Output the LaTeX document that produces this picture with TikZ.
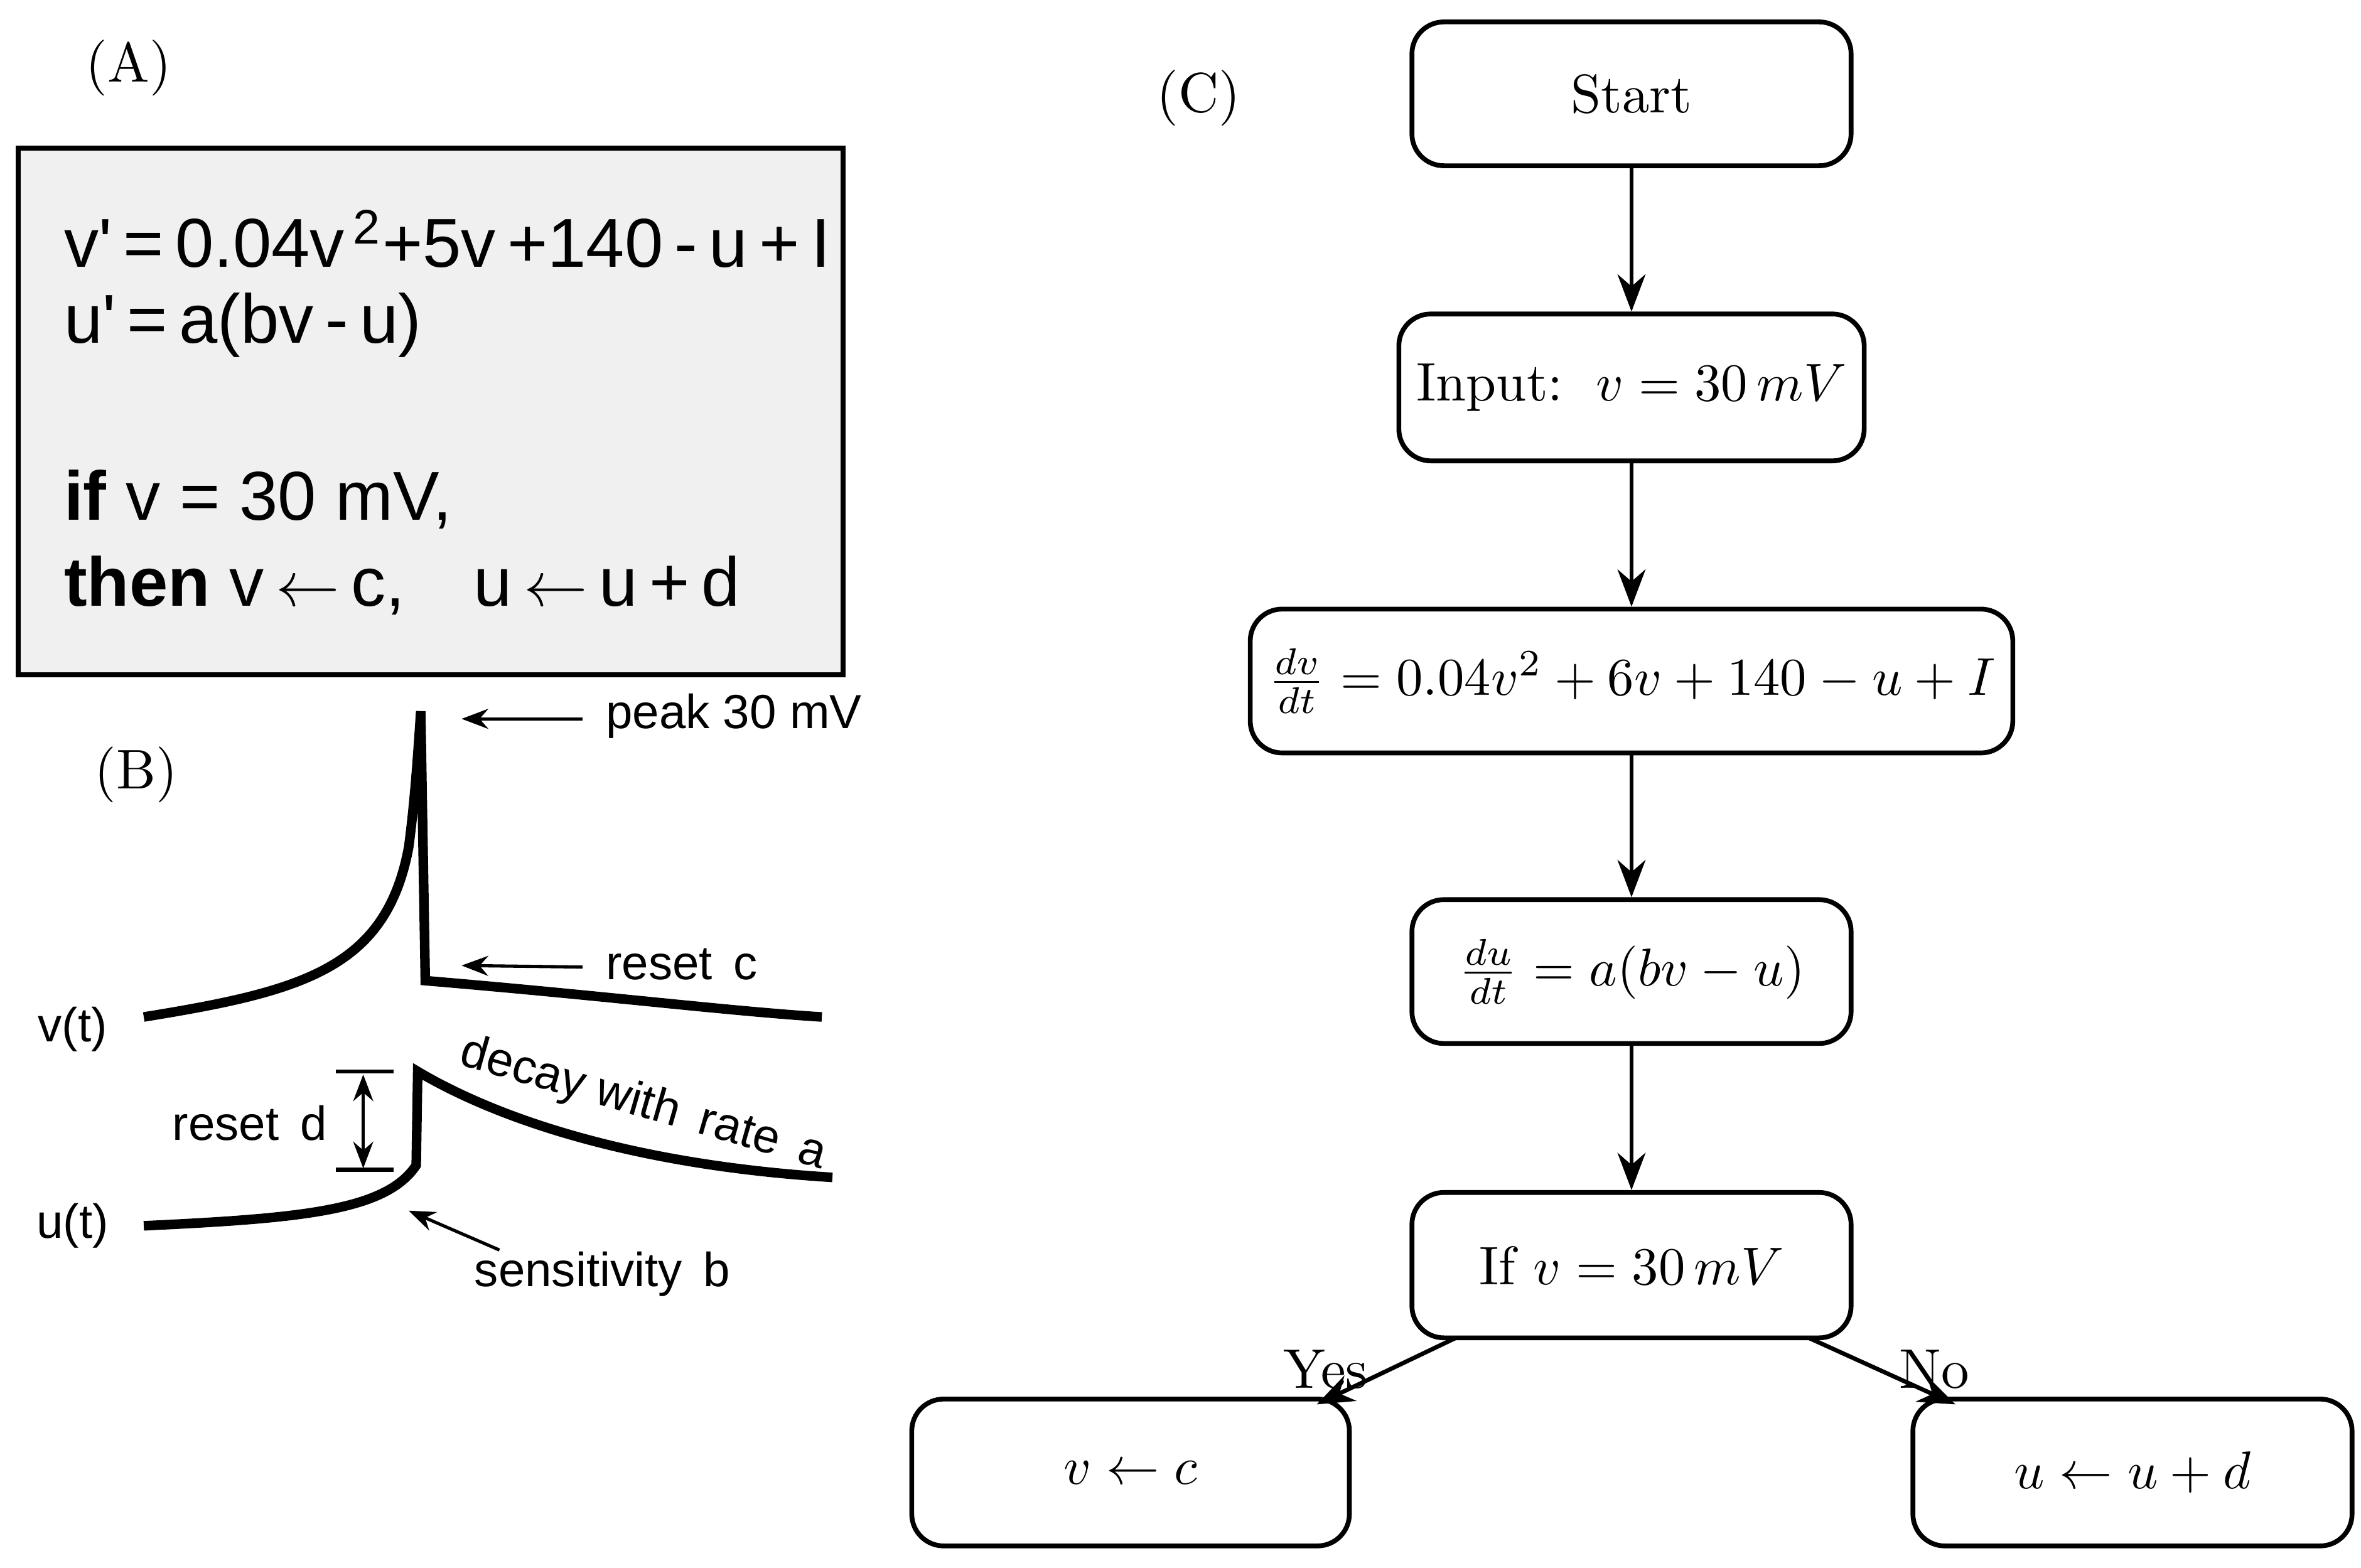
\documentclass[tikz,border=0pt]{standalone}
\usepackage{fontspec}
\newfontfamily\hsans{Liberation Sans}
\usetikzlibrary{arrows.meta}
\begin{document}
\begin{tikzpicture}[x=0.01cm,y=-0.01cm,
 box/.style={draw,rounded corners=6pt,line width=0.9pt,font=\fontsize{10.2}{12}\selectfont},
 arr/.style={-{Stealth[length=7pt]},line width=0.8pt},
 sarr/.style={-{Stealth[length=5pt]},line width=0.6pt},
 bt/.style={font=\hsans\fontsize{9}{11}\selectfont},
 lab/.style={font=\fontsize{10.5}{12}\selectfont},
 atxt/.style={font=\hsans\fontsize{13}{15}\selectfont,anchor=west}]
\useasboundingbox (0,0) rectangle (1560,1036);
% panel labels
\node[lab] (lA) at (85,45) {(A)};
\node[lab] (lB) at (90,512) {(B)};
\node[lab] (lC) at (792,65) {(C)};
% panel A
\draw[line width=0.9pt,fill=gray!12] (12,98) rectangle (557,446);
\node[atxt] (e1) at (30,158) {v'\,=\,0.04v\textsuperscript{\,2}+5v\,+140\,-\,u\,+\,I};
\node[atxt] (e2) at (30,215) {u'\,=\,a(bv\,-\,u)};
\node[atxt] (e3) at (30,330) {\textbf{if} v = 30 mV,};
\node[atxt] (e4) at (30,387) {\textbf{then} v\,$\leftarrow$\,c,\quad u\,$\leftarrow$\,u\,+\,d};
% panel B curves
\draw[line width=1.8pt] (95,672) .. controls (200,655) and (255,640) .. (270,560) .. controls (274,530) and (276,500) .. (278,470) -- (281,648) .. controls (400,658) and (480,668) .. (543,672);
\draw[line width=1.8pt] (95,810) .. controls (200,805) and (255,800) .. (275,770) -- (276,708) .. controls (330,740) and (420,770) .. (550,778);
\node[bt] (vt) at (48,680) {v(t)};
\node[bt] (ut) at (48,810) {u(t)};
\node[bt,anchor=west] (peak) at (388,473) {peak 30 mV};
\node[bt,anchor=west] (rc) at (388,637) {reset\, c};
\draw[sarr] (peak.west)++(-3,2) coordinate (p1) -- (305,475) coordinate (p2);
\draw[sarr] (rc.west)++(-3,2) coordinate (r1) -- (305,638) coordinate (r2);
\node[bt] (rd) at (165,742) {reset\, d};
\coordinate (d1) at (240,710); \coordinate (d2) at (240,772);
\draw[{Stealth[length=5pt]}-{Stealth[length=5pt]},line width=0.6pt] (d1) -- (d2);
\draw[line width=0.8pt] (222,708) -- (260,708) (222,773) -- (260,773);
\node[bt,rotate=-16] (decay) at (425,730) {decay with\, rate\, a};
\node[bt] (sb) at (398,842) {sensitivity\, b};
\coordinate (s1) at (330,826); \coordinate (s2) at (270,800);
\draw[sarr] (s1) -- (s2);
% panel C
\node[box,minimum width=2.9cm,minimum height=0.95cm] (start) at (1078,62) {Start};
\node[box,minimum width=2.9cm,minimum height=0.97cm] (inp) at (1078,256) {Input:\, $v=30\,mV$};
\node[box,minimum width=4.87cm,minimum height=0.95cm] (dv) at (1078,450) {$\frac{dv}{dt}=0.04v^2+6v+140-u+I$};
\node[box,minimum width=2.9cm,minimum height=0.95cm] (du) at (1078,642) {$\frac{du}{dt}=a(bv-u)$};
\node[box,minimum width=2.9cm,minimum height=0.96cm] (if) at (1078,836) {If $v=30\,mV$};
\node[box,minimum width=2.89cm,minimum height=0.97cm] (vc) at (747,973) {$v\leftarrow c$};
\node[box,minimum width=2.9cm,minimum height=0.97cm] (ud) at (1409,973) {$u\leftarrow u+d$};
\draw[arr] (start) -- (inp);
\draw[arr] (inp) -- (dv);
\draw[arr] (dv) -- (du);
\draw[arr] (du) -- (if);
\coordinate (y0) at (962,884); \coordinate (y1) at (870,928);
\coordinate (n0) at (1195,884); \coordinate (n1) at (1292,928);
\draw[arr] (y0) -- (y1);
\draw[arr] (n0) -- (n1);
\node[lab] (yes) at (876,905) {Yes};
\node[lab] (no) at (1278,905) {No};
\end{tikzpicture}
\end{document}
